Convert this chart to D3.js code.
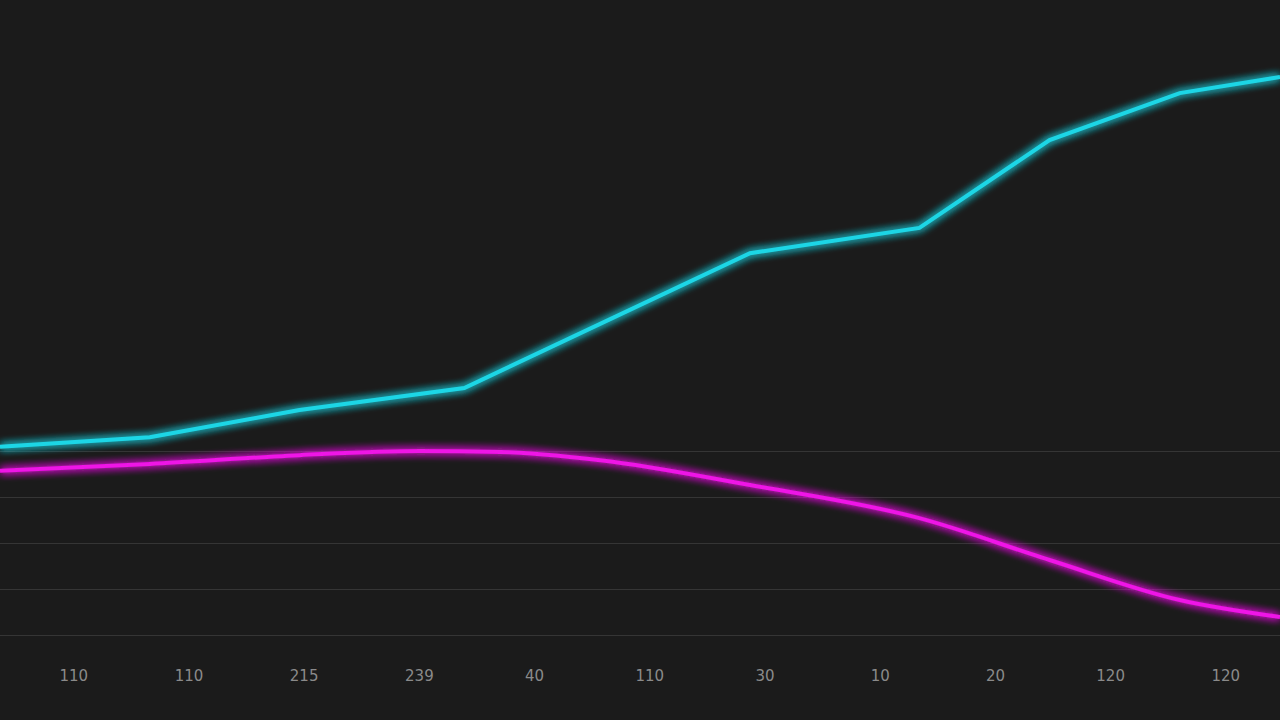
<!DOCTYPE html><html><head><meta charset="utf-8"><script src="https://cdn.jsdelivr.net/npm/d3@7"></script>
<style>html,body{margin:0;background:#1b1b1b;overflow:hidden}</style></head><body><svg width="1280" height="720"></svg>
<script>
const tickLabels=["110","110","215","239","40","110","30","10","20","120","120"];
const cyanX=[-0.64,0.66,1.96,3.39,5.87,7.34,8.47,9.6,10.47];
const cyanY=[40.9,43,48.9,53.7,83,88.5,107.6,117.8,121.3];
const magX=[-0.64,0.66,1.96,3.0,3.7,4.57,5.87,7.34,8.47,9.6,10.47];
const magY=[35.7,37.2,39.1,40,39.8,38,32.6,25.4,16.3,7.6,3.9];
const gridVals=[0,10,20,30,40];
const svg=d3.select("svg");
const x=d3.scaleLinear().domain([-0.64,10.47]).range([0,1280]);
const y=d3.scaleLinear().domain([0,10]).range([635,589]);
const defs=svg.append("defs");
const f=defs.append("filter").attr("id","glow").attr("x","-10%").attr("y","-50%").attr("width","120%").attr("height","200%");
f.append("feGaussianBlur").attr("stdDeviation",4).attr("result","b");
const m=f.append("feMerge");m.append("feMergeNode").attr("in","b");m.append("feMergeNode").attr("in","b");m.append("feMergeNode").attr("in","SourceGraphic");
svg.append("g").selectAll("line").data(gridVals).join("line").attr("x1",0).attr("x2",1280)
 .attr("y1",d=>y(d)+0.5).attr("y2",d=>y(d)+0.5).attr("stroke","#353535").attr("stroke-width",1);
svg.append("g").selectAll("text").data(tickLabels).join("text").attr("x",(d,i)=>x(i)).attr("y",681)
 .attr("text-anchor","middle").attr("fill","#8a8a8a").attr("font-family","DejaVu Sans").attr("font-size",15).text(d=>d);
const line=d3.line().x(d=>x(d[0])).y(d=>y(d[1]));
svg.append("path").datum(d3.zip(cyanX,cyanY)).attr("d",line).attr("fill","none").attr("stroke","#1fd6e6").attr("stroke-width",4).attr("filter","url(#glow)");
svg.append("path").datum(d3.zip(magX,magY)).attr("d",line.curve(d3.curveMonotoneX)).attr("fill","none").attr("stroke","#ee12e6").attr("stroke-width",4).attr("filter","url(#glow)");
</script></body></html>
